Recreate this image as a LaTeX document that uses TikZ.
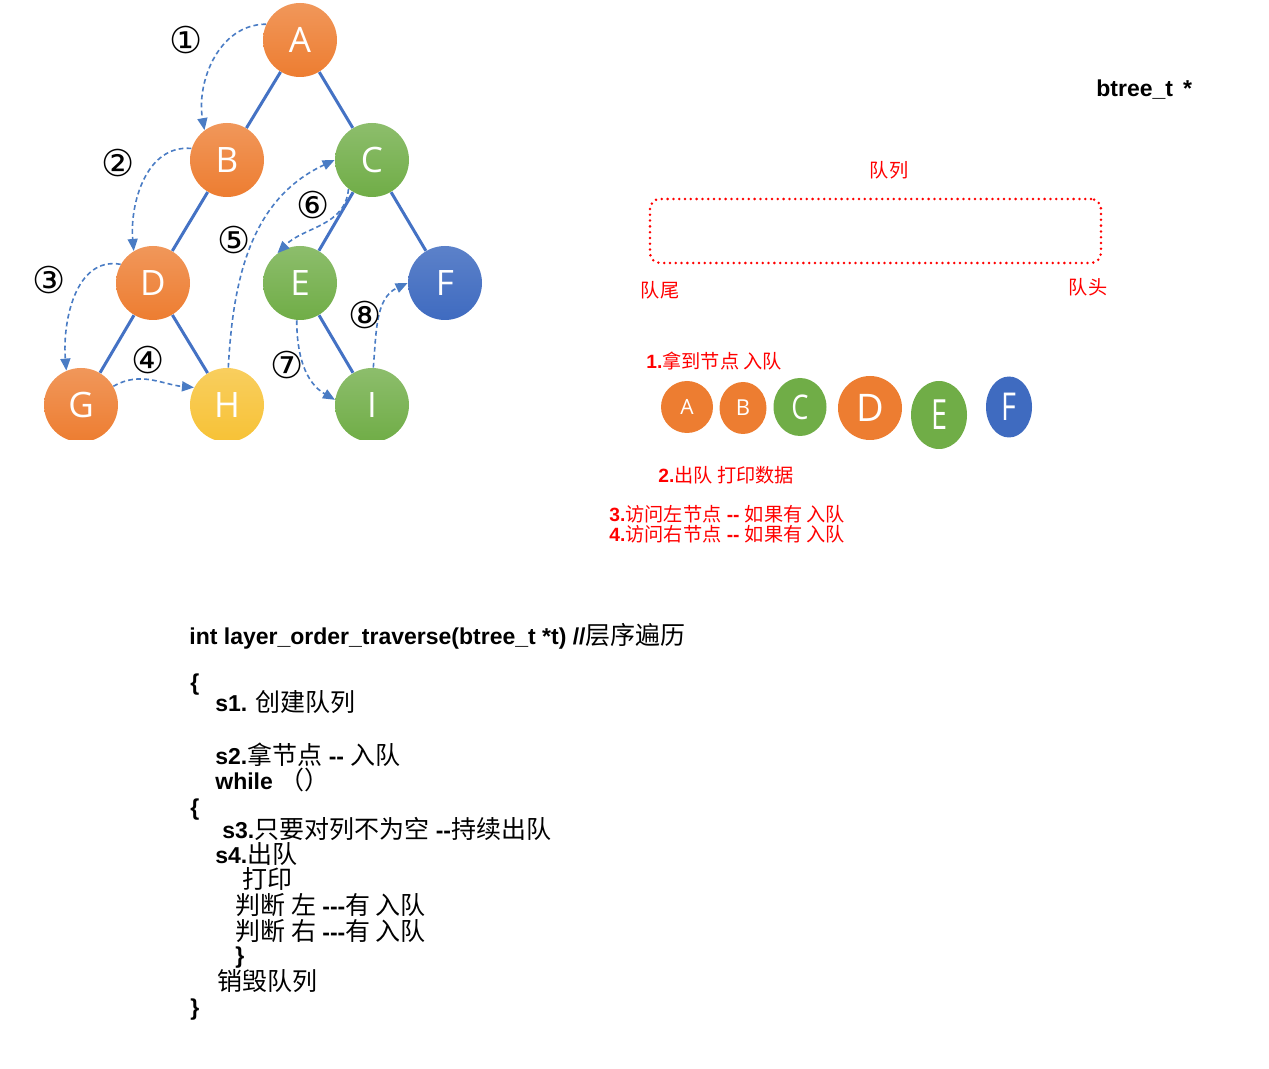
\documentclass[tikz,border=0pt]{standalone}
\usepackage{fontspec}
\setmainfont{Liberation Sans}
\newfontfamily\cjk{Noto Sans CJK SC}
\newfontfamily\symfont{DejaVu Sans}
\newfontfamily\letterfont{Open Sans}
\usetikzlibrary{positioning, calc, arrows.meta, shapes.geometric}
\definecolor{treeorange}{HTML}{ED7D31}
\definecolor{treegreen}{HTML}{70AD47}
\definecolor{treeblue}{HTML}{3F6BC0}
\definecolor{treeyellow}{HTML}{F7C236}
\definecolor{edgeblue}{HTML}{4472C4}
\definecolor{walkblue}{HTML}{4A7CC4}
\newcommand{\zh}[1]{{\cjk #1}}
\newcommand{\zc}[1]{{\cjk\fontsize{12.5}{13}\selectfont #1}}

\begin{document}
\begin{tikzpicture}[x=0.5pt, y=0.5pt,
    tnode/.style={circle, minimum size=37pt, inner sep=0pt, text=white,
        font=\letterfont\fontsize{17.5}{17.5}\selectfont},
    orangenode/.style={tnode, top color=treeorange!80!white, bottom color=treeorange},
    greennode/.style={tnode, top color=treegreen!80!white, bottom color=treegreen},
    bluenode/.style={tnode, top color=treeblue!85!white, bottom color=treeblue},
    yellownode/.style={tnode, top color=treeyellow!80!white, bottom color=treeyellow},
    qnode/.style={ellipse, inner sep=0pt, text=white, font=\letterfont},
    edge/.style={edgeblue, line width=1.5pt},
    walk/.style={walkblue, line width=0.8pt, dash pattern=on 2.4pt off 1.6pt,
        -{Triangle[length=6pt, width=5pt]}},
    stepnum/.style={font=\symfont\fontsize{18.5}{18.5}\selectfont, inner sep=0pt},
    redtext/.style={text=red, inner sep=0pt, font=\fontsize{9.6}{10}\selectfont},
    codeline/.style={anchor=base west, inner sep=0pt, font=\fontsize{11.5}{13}\selectfont}]

    \useasboundingbox (0,0) rectangle (1269,-1069);

    % --- Binary tree ---
    \begin{scope}
    \clip (0,0) rectangle (530,-440);
    \node[orangenode] (A) at (300,-40) {A};
    \node[orangenode] (B) at (227,-160) {B};
    \node[greennode]  (C) at (372,-160) {C};
    \node[orangenode] (D) at (153,-283) {D};
    \node[greennode]  (E) at (300,-283) {E};
    \node[bluenode]   (F) at (445,-283) {F};
    \node[orangenode] (G) at (81,-405) {G};
    \node[yellownode] (H) at (227,-405) {H};
    \node[greennode]  (I) at (372,-405) {I};

    \draw[edge] (A) -- (B);
    \draw[edge] (A) -- (C);
    \draw[edge] (B) -- (D);
    \draw[edge] (C) -- (E);
    \draw[edge] (C) -- (F);
    \draw[edge] (D) -- (G);
    \draw[edge] (D) -- (H);
    \draw[edge] (E) -- (I);

    % --- Traversal order ---
    \draw[walk] (A.155) to[out=180, in=100] (B.127);
    \draw[walk] (B.162) to[out=175, in=95] (D.121);
    \draw[walk] (D.150) to[out=170, in=95] (G.113);
    \draw[walk] (G.30) to[out=30, in=175] (H.152);
    \draw[walk] (H.88) to[out=87, in=205] (C.180);
    \draw[walk] (C.231) to[out=265, in=45] (E.127);
    \draw[walk] (E.265) to[out=270, in=150] (I.172);
    \draw[walk] (I.88) to[out=85, in=205] (F.180);

    \node[stepnum] (n1) at (186,-40) {①};
    \node[stepnum] (n2) at (118,-163) {②};
    \node[stepnum] (n3) at (49,-280) {③};
    \node[stepnum] (n4) at (148,-360) {④};
    \node[stepnum] (n5) at (234,-240) {⑤};
    \node[stepnum] (n6) at (313,-205) {⑥};
    \node[stepnum] (n7) at (287,-365) {⑦};
    \node[stepnum] (n8) at (365,-315) {⑧};
    \end{scope}

    % --- Queue ---
    \node[anchor=west, inner sep=0pt, font=\bfseries\fontsize{11.5}{12}\selectfont]
        (ptr) at (1096,-90) {btree\_t\hspace{5pt}*};
    \node[redtext] (qlabel) at (889,-170) {\zh{队列}};
    \node[draw=red, line width=1.4pt, line cap=round, dash pattern=on 0pt off 2.9pt,
        rounded corners=5pt, minimum width=225.5pt, minimum height=32pt]
        (queue) at (875.5,-231) {};
    \node[redtext] (tail) at (660,-290) {\zh{队尾}};
    \node[redtext] (head) at (1088,-287) {\zh{队头}};

    \node[redtext, anchor=west] (r1) at (646,-361) {\textbf{1.}\zh{拿到节点 入队}};

    \node[qnode, fill=treeorange, minimum width=26pt, minimum height=26pt,
        font=\letterfont\fontsize{10.5}{10.5}\selectfont] (qA) at (687,-407) {A};
    \node[qnode, fill=treeorange, minimum width=23.5pt, minimum height=26pt,
        font=\letterfont\fontsize{11}{11}\selectfont] (qB) at (743,-408) {B};
    \node[qnode, fill=treegreen, minimum width=26.5pt, minimum height=29pt,
        font=\letterfont\fontsize{17}{17}\selectfont] (qC) at (800,-407) {\scalebox{0.8}[1]{C}};
    \node[qnode, fill=treeorange, minimum width=32pt, minimum height=32pt,
        font=\letterfont\fontsize{19}{19}\selectfont] (qD) at (870,-408) {D};
    \node[qnode, fill=treegreen, minimum width=28pt, minimum height=34pt,
        font=\letterfont\fontsize{16}{16}\selectfont] (qE) at (939,-415) {\scalebox{0.9}[1.3]{E}};
    \node[qnode, fill=treeblue, minimum width=23pt, minimum height=30.5pt,
        font=\letterfont\fontsize{16}{16}\selectfont] (qF) at (1009,-407) {\scalebox{0.9}[1.2]{F}};

    \node[redtext, anchor=west] (r2) at (658,-475) {\textbf{2.}\zh{出队 打印数据}};
    \node[redtext, anchor=west] (r3) at (609,-514) {\textbf{3.}\zh{访问左节点} \textbf{-{}-} \zh{如果有 入队}};
    \node[redtext, anchor=west] (r4) at (609,-534) {\textbf{4.}\zh{访问右节点} \textbf{-{}-} \zh{如果有 入队}};

    % --- Pseudo code ---
    \node[codeline] (sig) at (189,-644) {\textbf{int layer\_order\_traverse(btree\_t *t) //}\zc{层序遍历}};
    \node[codeline] (open1) at (190,-690) {\textbf{\{}};
    \node[codeline] (s1) at (215,-711) {\textbf{s1.} \zc{创建队列}};
    \node[codeline] (s2) at (215,-764) {\textbf{s2.}\zc{拿节点} \textbf{-{}-} \zc{入队}};
    \node[codeline] (loop) at (215,-789) {\textbf{while} \zc{（）}};
    \node[codeline] (open2) at (190,-815) {\textbf{\{}};
    \node[codeline] (s3) at (222,-838) {\textbf{s3.}\zc{只要对列不为空} \textbf{-{}-}\zc{持续出队}};
    \node[codeline] (s4) at (215,-863) {\textbf{s4.}\zc{出队}};
    \node[codeline] (print) at (242,-888) {\zc{打印}};
    \node[codeline] (left) at (235,-914) {\zc{判断 左} \textbf{-{}-{}-}\zc{有 入队}};
    \node[codeline] (right) at (235,-940) {\zc{判断 右} \textbf{-{}-{}-}\zc{有 入队}};
    \node[codeline] (close2) at (235,-963) {\textbf{\}}};
    \node[codeline] (free) at (217,-990) {\zc{销毁队列}};
    \node[codeline] (close1) at (190,-1015) {\textbf{\}}};

\end{tikzpicture}
\end{document}
